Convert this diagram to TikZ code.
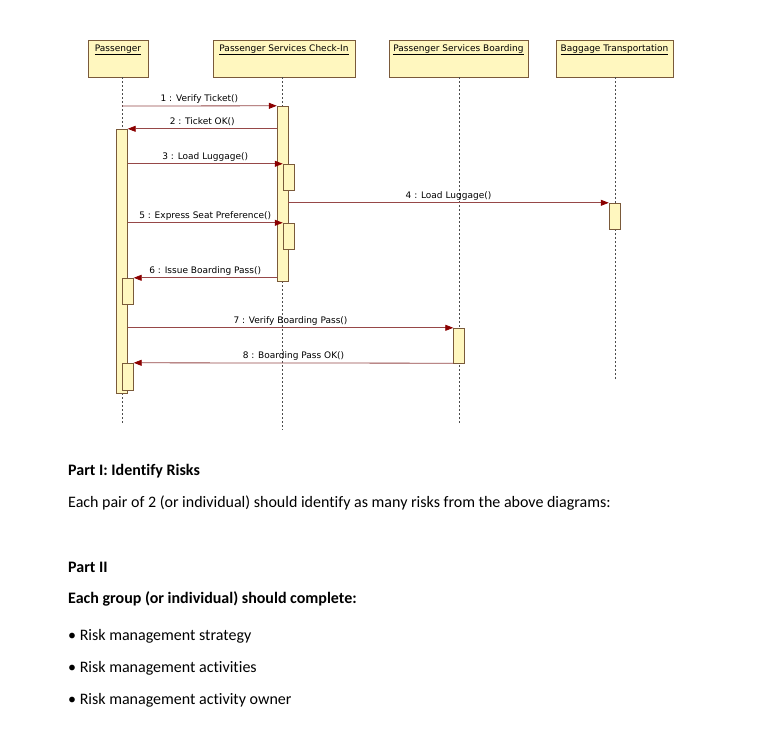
\documentclass[tikz,border=0pt]{standalone}
\usepackage{fontspec}
\setmainfont[Ligatures=NoCommon]{Carlito}
\newfontfamily\umlfont{DejaVu Sans}
\usetikzlibrary{arrows.meta}

\definecolor{umlfill}{HTML}{FFF7BF}
\definecolor{umledge}{HTML}{7A5A3A}
\definecolor{msgline}{HTML}{964848}
\definecolor{msgtip}{HTML}{8B0000}

\tikzset{
    headbox/.style={draw=umledge, fill=umlfill, minimum height=37pt, inner sep=0pt},
    headtxt/.style={below, inner sep=2pt, yshift=-2.5pt, font=\umlfont\fontsize{9}{10}\selectfont},
    actbox/.style={draw=umledge, fill=umlfill, minimum width=11pt, inner sep=0pt},
    life/.style={dash pattern=on 2pt off 2pt, black!70, line width=0.6pt},
    msg/.style={msgline, line width=0.8pt, -{Triangle[length=8pt, width=6pt, color=msgtip]}},
    msglbl/.style={above, inner sep=2pt, yshift=0.5pt, black, font=\umlfont\fontsize{9}{10}\selectfont},
    para/.style={anchor=west, inner sep=0pt, font=\fontsize{16}{18}\selectfont}
}

\begin{document}
\begin{tikzpicture}[x=1pt, y=-1pt]
    \useasboundingbox[fill=white] (0,0) rectangle (766,739);

    \node[headbox, minimum width=60pt] (hpas) at (118,58.5) {};
    \node[headbox, minimum width=142pt] (hchk) at (284,58.5) {};
    \node[headbox, minimum width=139pt] (hbrd) at (458.5,58.5) {};
    \node[headbox, minimum width=117pt] (hbag) at (614.5,58.5) {};
    \node[headtxt] (tpas) at (hpas.north) {\underline{Passenger}};
    \node[headtxt] (tchk) at (hchk.north) {\underline{Passenger Services Check-In}};
    \node[headtxt] (tbrd) at (hbrd.north) {\underline{Passenger Services Boarding}};
    \node[headtxt] (tbag) at (hbag.north) {\underline{Baggage Transportation}};

    \coordinate (epas) at (122,425);
    \coordinate (echk) at (282.5,430);
    \coordinate (ebrd) at (459.5,425);
    \coordinate (ebag) at (615,380);
    \draw[life] (hpas.south -| epas) -- (epas);
    \draw[life] (hchk.south -| echk) -- (echk);
    \draw[life] (hbrd.south -| ebrd) -- (ebrd);
    \draw[life] (hbag.south -| ebag) -- (ebag);

    \node[actbox, minimum height=264pt] (pact) at (122,261) {};
    \node[actbox, minimum height=175pt] (cact) at (282.5,193.5) {};
    \node[actbox, minimum height=26pt] (cact2) at (288.5,177) {};
    \node[actbox, minimum height=26pt] (cact3) at (288.5,236) {};
    \node[actbox, minimum height=26pt] (bact) at (614.5,216) {};
    \node[actbox, minimum height=26pt] (pact2) at (128,291) {};
    \node[actbox, minimum height=35pt] (sact) at (459,345.5) {};
    \node[actbox, minimum height=27pt] (pact3) at (128,376.5) {};

    \coordinate (m1) at (122,106);
    \draw[msg] (m1) -- (cact.north west) node[msglbl, midway] (l1) {1 : Verify Ticket()};
    \draw[msg] (cact.west |- pact.north) -- (pact.north east) node[msglbl, midway] (l2) {2 : Ticket OK()};
    \draw[msg] (pact.east |- cact2.north) -- (cact2.north west) node[msglbl, midway] (l3) {3 : Load Luggage()};
    \draw[msg] (cact.east |- bact.north) -- (bact.north west) node[msglbl, midway] (l4) {4 : Load Luggage()};
    \draw[msg] (pact.east |- cact3.north) -- (cact3.north west) node[msglbl, midway] (l5) {5 : Express Seat Preference()};
    \draw[msg] (cact.west |- pact2.north) -- (pact2.north east) node[msglbl, midway] (l6) {6 : Issue Boarding Pass()};
    \draw[msg] (pact.east |- sact.north) -- (sact.north west) node[msglbl, midway] (l7) {7 : Verify Boarding Pass()};
    \draw[msg] (sact.south west) -- (pact3.north east) node[msglbl, midway] (l8) {8 : Boarding Pass OK()};

    \node[para] (p1) at (68,471) {\bfseries Part I: Identify Risks};
    \node[para] (p2) at (68,503) {Each pair of 2 (or individual) should identify as many risks from the above diagrams:};
    \node[para] (p3) at (68,567) {\bfseries Part II};
    \node[para] (p4) at (68,599) {\bfseries Each group (or individual) should complete:};
    \node[para] (b1) at (68,636) {\textbullet\ Risk management strategy};
    \node[para] (b2) at (68,668) {\textbullet\ Risk management activities};
    \node[para] (b3) at (68,700) {\textbullet\ Risk management activity owner};
\end{tikzpicture}
\end{document}
